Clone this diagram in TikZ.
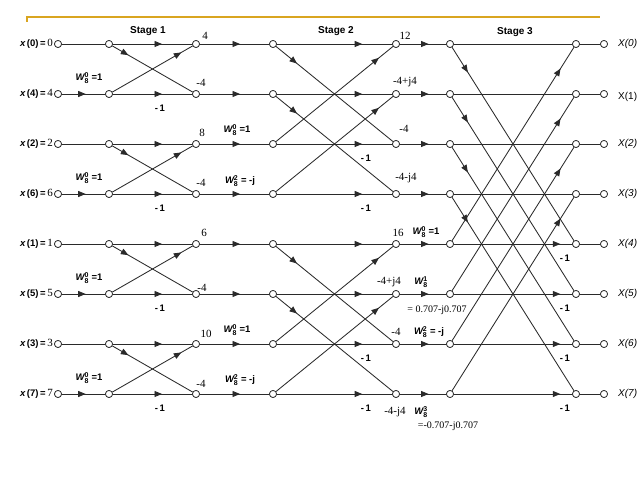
\documentclass[tikz,border=0pt]{standalone}
\usepackage{fontspec}
\setmainfont{Liberation Serif}
\setsansfont{Liberation Sans}
\usetikzlibrary{arrows.meta,decorations.markings}
\definecolor{ln}{HTML}{2A2A2A}
\definecolor{gold}{HTML}{D9A520}
\newcommand\Wtw[1]{{\sffamily\bfseries\itshape W}$^{\mbox{\fontsize{7}{7}\selectfont\sffamily\bfseries #1}}_{\mbox{\fontsize{7}{7}\selectfont\sffamily\bfseries 8}}$}
\tikzset{
  arr/.style={postaction={decorate},decoration={markings,mark=at position #1 with {\arrow{Triangle[length=7.5pt,width=6pt]}}}},
  wire/.style={draw=ln,line width=0.85pt},
  pt/.style={circle,draw=ln,fill=white,line width=0.7pt,inner sep=0pt,minimum size=7pt},
  val/.style={font=\fontsize{11}{11}\selectfont\rmfamily,inner sep=0pt},
  lab/.style={font=\fontsize{9.5}{10}\selectfont\sffamily\bfseries,inner sep=0pt},
  stg/.style={font=\fontsize{10}{10}\selectfont\sffamily\bfseries,inner sep=0pt},
}
\begin{document}
\begin{tikzpicture}[x=1pt,y=-1pt]
\useasboundingbox (0,0) rectangle (638,478);
\draw[gold,line width=1.2pt] (27,22) -- (27,17) -- (600,17);
% nodes
\foreach \c/\x in {0/58,1/109,2/196,3/273,4/396,5/450,6/576,7/604}
  \foreach \r in {0,...,7}
    \node[pt] (n\c\r) at (\x,44+50*\r) {};
% input edges
\foreach \r in {0,2,4,6} \draw[wire] (n0\r) -- (n1\r);
\foreach \r in {1,3,5,7} \draw[wire,arr=0.55] (n0\r) -- (n1\r);
% horizontals
\foreach \r in {0,...,7}{
  \draw[wire,arr=0.62] (n1\r) -- (n2\r);
  \draw[wire,arr=0.58] (n2\r) -- (n3\r);
  \draw[wire,arr=0.74] (n3\r) -- (n4\r);
  \draw[wire,arr=0.62] (n4\r) -- (n5\r);
  \draw[wire] (n6\r) -- (n7\r);
}
\foreach \r in {0,...,3} \draw[wire] (n5\r) -- (n6\r);
\foreach \r in {4,...,7} \draw[wire,arr=0.9] (n5\r) -- (n6\r);
% stage 1 butterflies
\foreach \a/\b in {0/1,2/3,4/5,6/7}{
  \draw[wire,arr=0.2] (n1\a) -- (n2\b);
  \draw[wire,arr=0.86] (n1\b) -- (n2\a);
}
% stage 2
\foreach \a/\b in {0/2,1/3,4/6,5/7}{
  \draw[wire,arr=0.18] (n3\a) -- (n4\b);
  \draw[wire,arr=0.88] (n3\b) -- (n4\a);
}
% stage 3
\foreach \a/\b in {0/4,1/5,2/6,3/7}{
  \draw[wire,arr=0.13] (n5\a) -- (n6\b);
  \draw[wire,arr=0.89] (n5\b) -- (n6\a);
}
% redraw nodes on top
\foreach \c/\x in {0/58,1/109,2/196,3/273,4/396,5/450,6/576,7/604}
  \foreach \r in {0,...,7}
    \node[pt] at (\x,44+50*\r) {};
% stage titles
\node[stg] (s1) at (148,31) {Stage 1};
\node[stg] (s2) at (336,31) {Stage 2};
\node[stg] (s3) at (515,32) {Stage 3};
% input labels
\foreach \r/\i/\v in {0/0/0,1/4/4,2/2/2,3/6/6,4/1/1,5/5/5,6/3/3,7/7/7}
  \node[lab,anchor=east] (in\r) at (53,44+50*\r) {{\itshape x}\,(\i)\,=\,{\rmfamily\mdseries\fontsize{11}{11}\selectfont\v}};
% output labels
\foreach \r in {0,2,3,4,5,6,7}
  \node[lab,anchor=west,font=\fontsize{10}{10}\selectfont\sffamily\itshape] (out\r) at (618,44+50*\r) {X(\r)};
\node[lab,anchor=west,font=\fontsize{10}{10}\selectfont\sffamily] (out1) at (618,97) {X(1)};
% stage 1 values
\node[val] (v10) at (205,36) {4};
\node[val] (v11) at (201,83) {-4};
\node[val] (v12) at (202,133) {8};
\node[val] (v13) at (201,183) {-4};
\node[val] (v14) at (204,233) {6};
\node[val] (v15) at (202,288) {-4};
\node[val] (v16) at (206,334) {10};
\node[val] (v17) at (201,384) {-4};
% stage 2 values
\node[val] (v20) at (405,36) {12};
\node[val] (v21) at (405,82) {-4+j4};
\node[val] (v22) at (404,129) {-4};
\node[val] (v23) at (406,178) {-4-j4};
\node[val] (v24) at (398,233) {16};
\node[val] (v25) at (389,282) {-4+j4};
\node[val] (v26) at (396,332) {-4};
\node[val] (v27) at (395,412) {-4-j4};
% stage 1 twiddles and -1
\foreach \r in {1,3,5,7}{
  \node[lab] (w1\r) at (89,28+50*\r) {\Wtw{0} =1};
  \node[lab] (m1\r) at (160,58+50*\r) {-\,1};
}
% stage 2 twiddles
\node[lab] (w22) at (237,130) {\Wtw{0} =1};
\node[lab] (w23) at (240,181) {\Wtw{2} = -j};
\node[lab] (w26) at (237,330) {\Wtw{0} =1};
\node[lab] (w27) at (240,380) {\Wtw{2} = -j};
\foreach \r in {2,3,6,7} \node[lab] (m2\r) at (366,58+50*\r) {-\,1};
% stage 3 twiddles
\node[lab] (w34) at (426,232) {\Wtw{0} =1};
\node[lab] (w35) at (421,282) {\Wtw{1}};
\node[val,font=\fontsize{10}{10}\selectfont\rmfamily] (e35) at (437,310) {= 0.707-j0.707};
\node[lab] (w36) at (429,332) {\Wtw{2} = -j};
\node[lab] (w37) at (421,412) {\Wtw{3}};
\node[val,font=\fontsize{10}{10}\selectfont\rmfamily] (e37) at (448,426) {=-0.707-j0.707};
\foreach \r in {4,...,7} \node[lab] (m3\r) at (565,58+50*\r) {-\,1};
\end{tikzpicture}
\end{document}
